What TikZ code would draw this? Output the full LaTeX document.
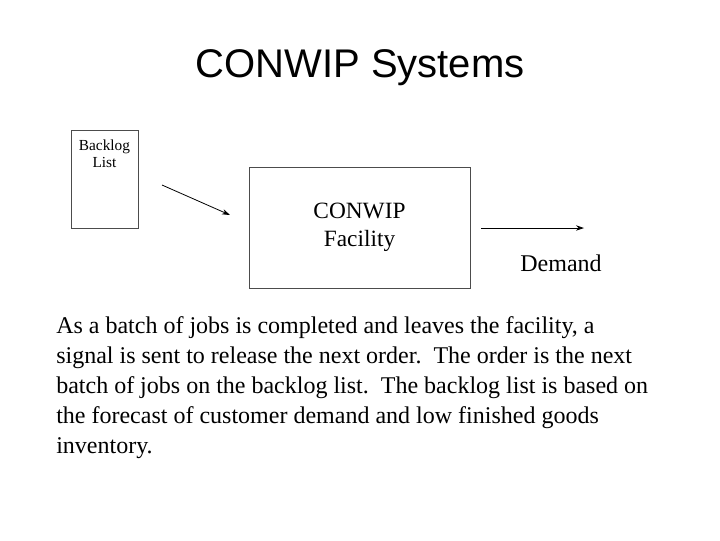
\documentclass[tikz,border=0pt]{standalone}
\usepackage{fontspec}
\setmainfont{Liberation Serif}
\newfontfamily\titlefont{Liberation Sans}
\usetikzlibrary{arrows.meta}
\begin{document}
\begin{tikzpicture}[x=0.75pt,y=-0.75pt,
  box/.style={draw=black!70,line width=0.6pt,inner sep=0},
  arr/.style={-{Stealth[length=6pt,width=4pt]},line width=0.6pt}]
\useasboundingbox (0,0) rectangle (720,540);
\node (title) at (360,68) {\titlefont\fontsize{30}{36}\selectfont CONWIP Systems};
\node[box,minimum width=50.25pt,minimum height=73.5pt] (backlog) at (104.5,179) {};
\node[anchor=north,align=center,font=\fontsize{11.5}{13}\selectfont] (bltext) at (104.5,135) {Backlog\\List};
\node[box,minimum width=165.75pt,minimum height=90.75pt,align=center,font=\fontsize{17.5}{21}\selectfont] (fac) at (359.5,227.5) {CONWIP\\Facility};
\coordinate (a1) at (162,185);
\coordinate (a2) at (230,215);
\draw[arr] (a1) -- (a2);
\coordinate (b1) at (481,228);
\coordinate (b2) at (584,228);
\draw[arr] (b1) -- (b2);
\node[font=\fontsize{18}{21}\selectfont] (demand) at (561,263) {Demand};
\node[anchor=north west,align=left,inner sep=0,font=\fontsize{18}{22.5}\selectfont] (para) at (56,316)
{As a batch of jobs is completed and leaves the facility, a\\signal is sent to release the next order.\ \ The order is the next\\batch of jobs on the backlog list.\ \ The backlog list is based on\\the forecast of customer demand and low finished goods\\inventory.};
\end{tikzpicture}
\end{document}
